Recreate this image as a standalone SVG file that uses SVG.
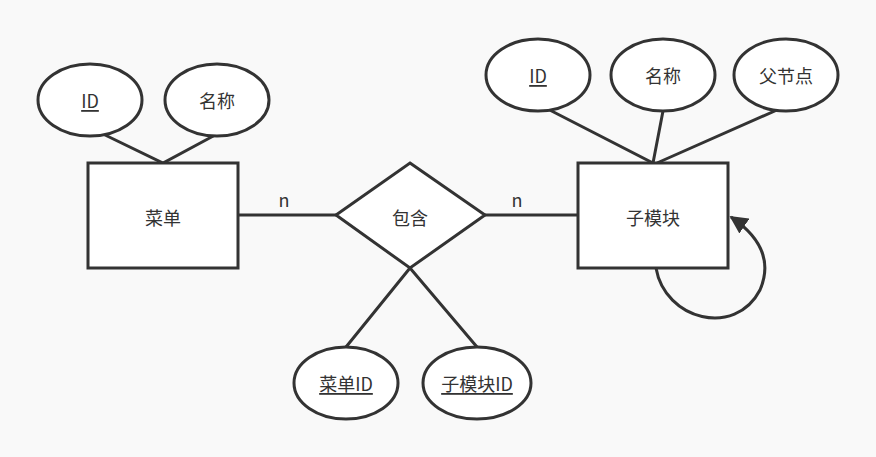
<svg xmlns="http://www.w3.org/2000/svg" width="876" height="457" viewBox="0 0 876 457">
<style>
.s{fill:#fff;stroke:#333;stroke-width:3}
.l{fill:none;stroke:#333;stroke-width:3}
text{font-family:"Noto Sans CJK SC","Noto Sans",sans-serif;font-size:18px;fill:#333;text-anchor:middle;dominant-baseline:central}
.u{text-decoration:underline}
</style>
<defs><marker id="a" viewBox="0 0 10 10" refX="9" refY="5" markerWidth="6" markerHeight="6" orient="auto" markerUnits="strokeWidth"><path d="M0,0L10,5L0,10Z" fill="#333"/></marker></defs>
<rect width="876" height="457" fill="#f9f9f9"/>
<g id="connectors">
<path class="l" d="M103,134L163,163L217,134"/>
<path class="l" d="M538,104L653,163L663,111M786,106L657,163"/>
<path class="l" d="M238,215H336M485,215H578"/>
<path class="l" d="M410,268L346,347M410,268L477,347"/>
<path class="l" d="M656,268C665,320 735,338 760,290C772,262 762,238 731,217" marker-end="url(#a)"/>
<text x="284" y="199">n</text><text x="517" y="199">n</text>
</g>
<g id="menu"><rect class="s" x="88" y="163" width="150" height="105"/><text x="163" y="217">菜单</text></g>
<g id="module"><rect class="s" x="578" y="163" width="150" height="105"/><text x="653" y="217">子模块</text></g>
<g id="contains"><path class="s" d="M410,163L485,215L410,268L336,215Z"/><text x="410" y="217">包含</text></g>
<g id="m-id"><ellipse class="s" cx="90" cy="100" rx="52" ry="36"/><text class="u" x="90" y="100">ID</text></g>
<g id="m-name"><ellipse class="s" cx="217" cy="100" rx="52" ry="36"/><text x="217" y="100">名称</text></g>
<g id="s-id"><ellipse class="s" cx="538" cy="75" rx="52" ry="36"/><text class="u" x="538" y="75">ID</text></g>
<g id="s-name"><ellipse class="s" cx="663" cy="75" rx="52" ry="36"/><text x="663" y="75">名称</text></g>
<g id="s-parent"><ellipse class="s" cx="786" cy="75" rx="52" ry="36"/><text x="786" y="75">父节点</text></g>
<g id="r-mid"><ellipse class="s" cx="346" cy="383" rx="52" ry="36"/><text class="u" x="346" y="383">菜单ID</text></g>
<g id="r-sid"><ellipse class="s" cx="477" cy="383" rx="54" ry="36"/><text class="u" x="477" y="383">子模块ID</text></g>
</svg>
